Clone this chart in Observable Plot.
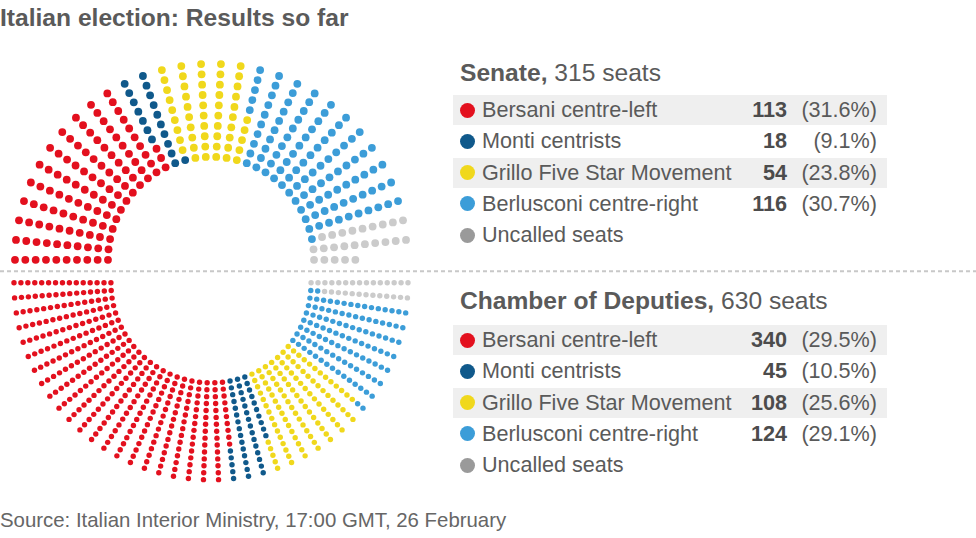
<!DOCTYPE html>
<html><head><meta charset="utf-8">
<script src="https://cdn.jsdelivr.net/npm/d3@7"></script>
<script src="https://cdn.jsdelivr.net/npm/@observablehq/plot@0.6"></script>
<style>
body{margin:0;background:#fff;font-family:"Liberation Sans",Arial,Helvetica,sans-serif;color:#555;}
#wrap{position:relative;width:976px;height:538px;overflow:hidden;}
#title{position:absolute;left:0;top:4px;font-size:24.6px;line-height:28px;font-weight:bold;color:#5a5a5a;white-space:nowrap;}
#chart{position:absolute;left:0;top:40px;}
#source{position:absolute;left:0;top:508px;font-size:20.4px;line-height:24px;color:#666;white-space:nowrap;}
.head{position:absolute;left:460px;font-size:24.6px;line-height:28px;color:#5a5a5a;white-space:nowrap;}
.row{position:absolute;left:453px;width:434px;height:30px;font-size:21.6px;line-height:30px;color:#5a5a5a;white-space:nowrap;}
.row.shade{background:#efefef;}
.sw{position:absolute;left:7px;top:7.5px;width:15px;height:15px;border-radius:50%;}
.lab{position:absolute;left:29px;top:0;}
.num{position:absolute;right:100px;top:0;font-weight:bold;color:#4c4c4c;}
.pct{position:absolute;right:10px;top:0;}
</style></head>
<body>
<div id="wrap">
  <div id="title">Italian election: Results so far</div>
  <div id="chart"></div>
  <div id="source">Source: Italian Interior Ministry, 17:00 GMT, 26 February</div>
</div>
<script>
// ---- data ----
const parties = ["Bersani centre-left", "Monti centrists", "Grillo Five Star Movement", "Berlusconi centre-right", "Uncalled seats"];
const dotColors = ["#e3101e", "#10598b", "#f0d81c", "#3c9dd8", "#cbcbcb"];
const legendColors = ["#e3101e", "#10598b", "#f0d81c", "#3c9dd8", "#9a9a9a"];

const senateName = "Senate";
const senateTotal = 315;
const senateSeats = [113, 18, 54, 116];
const senatePct = ["31.6%", "9.1%", "23.8%", "30.7%"];
const senateDots = [113, 18, 54, 106, 24];   // seat dots as drawn in the picture
const senatePerSpoke = 10;

const chamberName = "Chamber of Deputies";
const chamberTotal = 630;
const chamberSeats = [340, 45, 108, 124];
const chamberPct = ["29.5%", "10.5%", "25.6%", "29.1%"];
const chamberDots = [340, 45, 108, 109, 28];
const chamberPerSpoke = 15;

// ---- layout of seats (hemicycles) ----
function hemicycle(dots, perSpoke, rIn, rOut, yc, dir) {
  const seq = [];
  dots.forEach((n, p) => { for (let i = 0; i < n; i++) seq.push(p); });
  const nSpokes = Math.ceil(seq.length / perSpoke);
  return seq.map((p, i) => {
    const s = Math.floor(i / perSpoke), k = i % perSpoke;
    const th = Math.PI - s * Math.PI / (nSpokes - 1);
    const r = rIn + k * (rOut - rIn) / (perSpoke - 1);
    return {party: parties[p], x: r * Math.cos(th), y: yc + dir * r * Math.sin(th)};
  });
}
const senate = hemicycle(senateDots, senatePerSpoke, 0.523, 0.995, 0.0584, 1);
const chamber = hemicycle(chamberDots, chamberPerSpoke, 0.508, 1.0, -0.0584, -1);

const plot = Plot.plot({
  width: 976, height: 460, margin: 0,
  x: {domain: [-1, 1], range: [13.5, 407.5], axis: null},
  y: {domain: [-1, 1], range: [427.8, 33.8], axis: null},
  color: {domain: parties, range: dotColors},
  marks: [
    Plot.ruleY([0], {stroke: "#c8c8c8", strokeWidth: 2, strokeDasharray: "4,3"}),
    Plot.dot(senate, {x: "x", y: "y", r: 3.9, fill: "party"}),
    Plot.dot(chamber, {x: "x", y: "y", r: 2.7, fill: "party"})
  ]
});
document.getElementById("chart").appendChild(plot);

// ---- legends ----
const wrap = document.getElementById("wrap");
function legend(name, total, seats, pct, headTop, rowTop) {
  const h = document.createElement("div");
  h.className = "head"; h.style.top = headTop + "px";
  h.innerHTML = `<b>${name},</b> ${total} seats`;
  wrap.appendChild(h);
  parties.forEach((p, i) => {
    const r = document.createElement("div");
    r.className = "row" + (i % 2 === 0 && i < 4 ? " shade" : "");
    r.style.top = (rowTop + i * 31.3) + "px";
    r.innerHTML = `<span class="sw" style="background:${legendColors[i]}"></span><span class="lab">${p}</span>` +
      (i < 4 ? `<span class="num">${seats[i]}</span><span class="pct">(${pct[i]})</span>` : "");
    wrap.appendChild(r);
  });
}
legend(senateName, senateTotal, senateSeats, senatePct, 59, 95);
legend(chamberName, chamberTotal, chamberSeats, chamberPct, 287, 325);
</script>
</body></html>
